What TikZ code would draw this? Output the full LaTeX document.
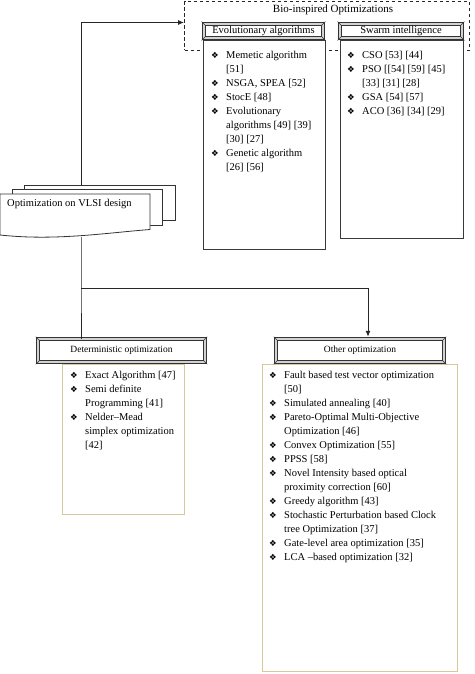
\documentclass[tikz,border=0pt]{standalone}
\usepackage{fontspec}
\setmainfont{Liberation Serif}
\newfontfamily\symfont{DejaVu Sans}
\usetikzlibrary{arrows.meta,calc}
\newcommand\bul{\makebox[15pt][l]{\raisebox{0.2pt}{\symfont\fontsize{8.5}{8.5}\selectfont\char"2756}}}
\newcommand\ind{\hspace*{15pt}}
\definecolor{tanline}{HTML}{D8C79C}
\definecolor{darkline}{HTML}{3A3A3A}
\tikzset{
  body/.style={draw=darkline, line width=1.1pt, fill=white, anchor=north west, inner sep=0pt},
  tanbody/.style={draw=tanline, line width=1.3pt, fill=white, anchor=north west, inner sep=0pt},
  bevel/.style={draw=black!80, line width=0.8pt, double=gray!35, double distance=2.5pt, fill=white, inner sep=0pt},
  listtext/.style={anchor=north west, inner sep=0pt, align=left, font=\fontsize{10.5}{14}\selectfont},
  conn/.style={draw=black!85, line width=0.9pt},
  doc/.style={draw=black!80, line width=0.8pt, fill=white}
}
\newcommand\bevcorners[2]{%
  \draw[black!80, line width=0.5pt] ([shift={(-#2,#2)}]#1.north west) -- ([shift={(#2,-#2)}]#1.north west);
  \draw[black!80, line width=0.5pt] ([shift={(#2,#2)}]#1.north east) -- ([shift={(-#2,-#2)}]#1.north east);
  \draw[black!80, line width=0.5pt] ([shift={(-#2,-#2)}]#1.south west) -- ([shift={(#2,#2)}]#1.south west);
  \draw[black!80, line width=0.5pt] ([shift={(#2,-#2)}]#1.south east) -- ([shift={(-#2,#2)}]#1.south east);}
\begin{document}
\begin{tikzpicture}[x=1pt,y=-1pt]
\useasboundingbox (0,0) rectangle (474,674);
% dashed group box
\node[draw=black!85, dashed, dash pattern=on 3.5pt off 2.5pt, line width=1pt, minimum width=285pt, minimum height=48.5pt, anchor=north west, inner sep=0pt] (bio) at (184,1.5) {};
\node[font=\fontsize{11}{13}\selectfont] (biot) at (333,10) {Bio-inspired Optimizations};
% coordinates for connectors
\coordinate (docTop) at (81,185);
\coordinate (docBot) at (81,237);
\coordinate (j) at (81,288);
\draw[conn, -{Latex[length=6pt,width=5pt]}] (docTop) |- ([yshift=3.75pt]bio.west);
% multi-document shape
\draw[doc] (24,185) rectangle (175,220);
\draw[doc] (12,189) rectangle (162,225);
\draw[doc] (0,194) -- (150,194) -- (150,229.5) .. controls (105,233) and (55,241) .. (0,235) -- cycle;
\node[anchor=base west, inner sep=0pt, font=\fontsize{10.5}{13}\selectfont] (doct) at (7,206.5) {Optimization on VLSI design};
% body boxes
\node[body, minimum width=122pt, minimum height=209pt] (evb) at (203,40) {};
\node[body, minimum width=123pt, minimum height=198pt] (swb) at (340,40) {};
\node[tanbody, minimum width=122pt, minimum height=150pt] (detb) at (62,364) {};
\node[tanbody, minimum width=195pt, minimum height=307pt] (othb) at (262,364) {};
% headers
\node[bevel, minimum width=118.9pt, minimum height=13.9pt, font=\fontsize{10.5}{12}\selectfont] (evh) at (263.5,31) {Evolutionary algorithms};
\bevcorners{evh}{2.05pt}
\node[bevel, minimum width=121.9pt, minimum height=13.9pt, font=\fontsize{10.5}{12}\selectfont] (swh) at (401,31) {Swarm intelligence};
\bevcorners{swh}{2.05pt}
\node[bevel, minimum width=166.7pt, minimum height=22.7pt, font=\fontsize{9.5}{11}\selectfont] (deth) at (121.5,350.5) {Deterministic optimization};
\bevcorners{deth}{2.05pt}
\node[bevel, minimum width=167.7pt, minimum height=22.7pt, font=\fontsize{9.5}{11}\selectfont] (othh) at (360,350.5) {Other optimization};
\bevcorners{othh}{2.05pt}
% lower connectors
\draw[conn] (docBot) -- (j) -- (j |- deth.north);
\draw[conn, -{Latex[length=6pt,width=5pt]}] (j) -| ([xshift=8pt,yshift=2pt]othh.north);
% lists
\node[listtext] (evl) at (211,51.3) {\bul Memetic algorithm\\ \ind [51]\\ \bul NSGA, SPEA [52]\\ \bul StocE [48]\\ \bul Evolutionary\\ \ind algorithms [49] [39]\\ \ind [30] [27]\\ \bul Genetic algorithm\\ \ind [26] [56]};
\node[listtext] (swl) at (347,51.3) {\bul CSO [53] [44]\\ \bul PSO [[54] [59] [45]\\ \ind [33] [31] [28]\\ \bul GSA [54] [57]\\ \bul ACO [36] [34] [29]};
\node[listtext] (detl) at (70,371.3) {\bul Exact Algorithm [47]\\ \bul Semi definite\\ \ind Programming [41]\\ \bul Nelder–Mead\\ \ind simplex optimization\\ \ind [42]};
\node[listtext] (othl) at (269,371.3) {\bul Fault based test vector optimization\\ \ind [50]\\ \bul Simulated annealing [40]\\ \bul Pareto-Optimal Multi-Objective\\ \ind Optimization [46]\\ \bul Convex Optimization [55]\\ \bul PPSS [58]\\ \bul Novel Intensity based optical\\ \ind proximity correction [60]\\ \bul Greedy algorithm [43]\\ \bul Stochastic Perturbation based Clock\\ \ind tree Optimization [37]\\ \bul Gate-level area optimization [35]\\ \bul LCA –based optimization [32]};
\end{tikzpicture}
\end{document}
